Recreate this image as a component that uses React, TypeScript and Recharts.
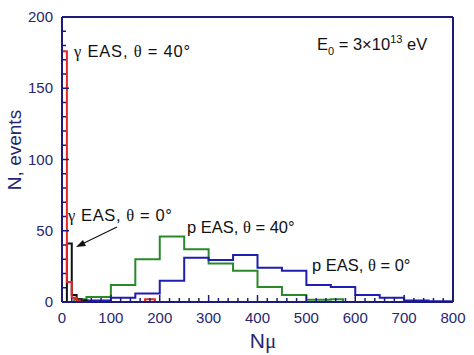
import React from "react";
import { ComposedChart, Line, XAxis, YAxis } from "recharts";

// bin edges and counts
const gamma40Edges = [0, 10, 20, 30, 40, 170, 190, 200];
const gamma40Counts = [176, 14, 3, 1, 0, 2, 0];

const gamma0Edges = [10, 20, 30, 40, 50];
const gamma0Counts = [41, 5, 2, 1];

const p40Edges = [25, 50, 100, 150, 200, 250, 300, 350, 400, 450, 500, 550, 575];
const p40Counts = [2, 3.5, 12, 30, 46, 37, 27, 22, 10.5, 5, 1.5, 2];

const p0Edges = [50, 100, 150, 200, 250, 300, 350, 400, 450, 500, 550, 600, 650, 700, 750, 800];
const p0Counts = [1, 3, 6, 15, 31, 29.5, 33, 24, 22, 12, 10.5, 5, 3, 1, 0.5];

const xTicks = Array.from({ length: 41 }, (_, i) => i * 20);
const yTicks = Array.from({ length: 21 }, (_, i) => i * 10);

const FRAME = "#1c1c78";
const LABEL = "#26266e";

function steps(edges: number[], counts: number[]) {
  const pts = [{ x: edges[0], y: 0 }];
  counts.forEach((c, i) => pts.push({ x: edges[i], y: c }));
  pts.push({ x: edges[edges.length - 1], y: counts[counts.length - 1] });
  pts.push({ x: edges[edges.length - 1], y: 0 });
  return pts;
}

const tickFont = { fontFamily: "Liberation Sans, Arial, sans-serif", fontSize: 15, fill: LABEL };

function BottomTick(props: any) {
  const { x, y, payload } = props;
  const major = payload.value % 100 === 0;
  return (
    <g>
      <line x1={x} x2={x} y1={y} y2={y - (major ? 7 : 4)} stroke={FRAME} strokeWidth={1.5} />
      {major && (
        <text x={x} y={y + 21} textAnchor="middle" {...tickFont}>
          {payload.value}
        </text>
      )}
    </g>
  );
}

function TopTick(props: any) {
  const { x, y, payload } = props;
  const major = payload.value % 100 === 0;
  return <line x1={x} x2={x} y1={y} y2={y + (major ? 7 : 4)} stroke={FRAME} strokeWidth={1.5} />;
}

function LeftTick(props: any) {
  const { x, y, payload } = props;
  const major = payload.value % 50 === 0;
  return (
    <g>
      <line x1={x} x2={x + (major ? 7 : 4)} y1={y} y2={y} stroke={FRAME} strokeWidth={1.5} />
      {major && (
        <text x={x - 9} y={y + 5} textAnchor="end" {...tickFont}>
          {payload.value}
        </text>
      )}
    </g>
  );
}

function RightTick(props: any) {
  const { x, y, payload } = props;
  const major = payload.value % 50 === 0;
  return <line x1={x} x2={x - (major ? 7 : 4)} y1={y} y2={y} stroke={FRAME} strokeWidth={1.5} />;
}

const sans = "Liberation Sans, Arial, sans-serif";
const serif = "Liberation Serif, Times New Roman, serif";
const note = { fontFamily: sans, fontSize: 16.5, fill: "#111" };

export default function App() {
  return (
    <div>
      <style>{"body{margin:0;background:#fff}"}</style>
      <ComposedChart
        width={474}
        height={355}
        margin={{ top: 16, right: 20, bottom: 0, left: 0 }}
      >
        <XAxis
          xAxisId="b"
          type="number"
          dataKey="x"
          domain={[0, 800]}
          ticks={xTicks}
          interval={0}
          height={53}
          tickSize={0}
          tickMargin={0}
          tick={<BottomTick />}
          axisLine={{ stroke: FRAME, strokeWidth: 2 }}
          allowDuplicatedCategory={false}
        />
        <XAxis
          xAxisId="t"
          orientation="top"
          type="number"
          dataKey="x"
          domain={[0, 800]}
          ticks={xTicks}
          interval={0}
          height={1}
          tickSize={0}
          tickMargin={0}
          tick={<TopTick />}
          axisLine={{ stroke: FRAME, strokeWidth: 2 }}
        />
        <YAxis
          yAxisId="l"
          type="number"
          domain={[0, 200]}
          ticks={yTicks}
          interval={0}
          width={62}
          tickSize={0}
          tickMargin={0}
          tick={<LeftTick />}
          axisLine={{ stroke: FRAME, strokeWidth: 2 }}
        />
        <YAxis
          yAxisId="r"
          orientation="right"
          type="number"
          domain={[0, 200]}
          ticks={yTicks}
          interval={0}
          width={1}
          tickSize={0}
          tickMargin={0}
          tick={<RightTick />}
          axisLine={{ stroke: FRAME, strokeWidth: 2 }}
        />
        <Line xAxisId="b" yAxisId="l" data={steps(p40Edges, p40Counts)} dataKey="y" type="stepAfter" stroke="#2a8a2a" strokeWidth={2} dot={false} isAnimationActive={false} />
        <Line xAxisId="b" yAxisId="l" data={steps(p0Edges, p0Counts)} dataKey="y" type="stepAfter" stroke="#1e1eb0" strokeWidth={2} dot={false} isAnimationActive={false} />
        <Line xAxisId="b" yAxisId="l" data={steps(gamma0Edges, gamma0Counts)} dataKey="y" type="stepAfter" stroke="#111" strokeWidth={2} dot={false} isAnimationActive={false} />
        <Line xAxisId="b" yAxisId="l" data={steps(gamma40Edges, gamma40Counts)} dataKey="y" type="stepAfter" stroke="#e4262a" strokeWidth={2} dot={false} isAnimationActive={false} />

        <text x={21} y={150} transform="rotate(-90 21 150)" textAnchor="middle" fontFamily={sans} fontSize={19} fill={LABEL}>
          N, events
        </text>
        <text x={263} y={348} textAnchor="middle" fontFamily={sans} fontSize={21} fill={LABEL}>
          N<tspan fontFamily={serif}>μ</tspan>
        </text>

        <text x={317} y={50} fontFamily={sans} fontSize={16.5} fill="#111">
          E<tspan fontSize={11} dy={5}>0</tspan>
          <tspan dy={-5}> = 3×10</tspan>
          <tspan fontSize={11} dy={-7}>13</tspan>
          <tspan dy={7}> eV</tspan>
        </text>
        <text x={74} y={57} {...note} letterSpacing={0.8}>
          <tspan fontFamily={serif}>γ</tspan> EAS, <tspan fontFamily={serif}>θ</tspan> = 40°
        </text>
        <text x={68} y={221} {...note} letterSpacing={0.6}>
          <tspan fontFamily={serif}>γ</tspan> EAS, <tspan fontFamily={serif}>θ</tspan> = 0°
        </text>
        <text x={187} y={233} {...note}>
          p EAS, <tspan fontFamily={serif}>θ</tspan> = 40°
        </text>
        <text x={312} y={271} {...note}>
          p EAS, <tspan fontFamily={serif}>θ</tspan> = 0°
        </text>
        <line x1={117} y1={227} x2={82} y2={244} stroke="#111" strokeWidth={1.2} />
        <polygon points="76,247 83,240 86,246" fill="#111" />
      </ComposedChart>
    </div>
  );
}
